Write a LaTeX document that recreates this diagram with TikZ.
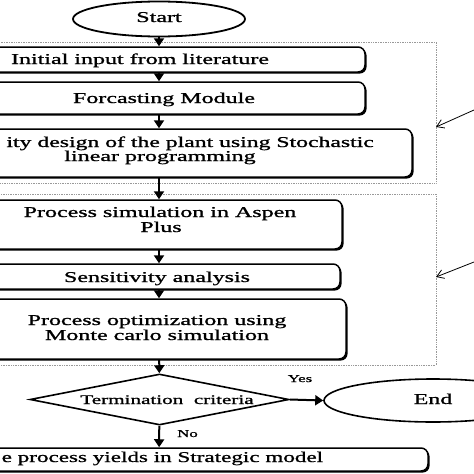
\documentclass[tikz,border=0pt]{standalone}
\usepackage{fontspec}
\setmainfont{Liberation Serif}
\newfontfamily\medfont{Liberation Serif}[FakeBold=0.9]
\usetikzlibrary{shapes.geometric,shadows,arrows.meta}
\newcommand\wx[1]{\scalebox{1.6}[1]{#1}}
\begin{document}
\begin{tikzpicture}[x=1pt,y=-1pt,
  box/.style={draw=black,line width=1.5pt,rounded corners=7pt,fill=white,inner sep=0pt,
     drop shadow={shadow xshift=1.6pt,shadow yshift=-1.6pt,opacity=1,fill=black}},
  txt/.style={inner sep=0pt,anchor=base,font=\fontsize{15}{16}\medfont},
  small/.style={inner sep=0pt,anchor=base,font=\fontsize{10.5}{12}\medfont},
  grp/.style={draw=gray!80,densely dotted,line width=0.7pt},
  arr/.style={line width=2pt,-{Triangle[length=8pt,width=10pt]}},
  pointer/.style={line width=0.8pt,-{Straight Barb[length=7pt,width=9pt]}}]
\useasboundingbox (0,0) rectangle (474,474);
\clip (0,0) rectangle (474,474);
\fill[white] (0,0) rectangle (474,474);
% groups
\draw[grp] (-10,42) rectangle (436,183);
\draw[grp] (-10,194) rectangle (436,365);
% terminals
\node[draw,ellipse,line width=1.8pt,minimum width=172pt,minimum height=35pt,inner sep=0pt] (start) at (159,19) {};
\node[draw,ellipse,line width=1.6pt,minimum width=218pt,minimum height=43pt,inner sep=0pt] (end) at (433,400.5) {};
% boxes
\node[box,minimum width=412pt,minimum height=25pt] (b1) at (159,59.5) {};
\node[box,minimum width=412pt,minimum height=32pt] (b2) at (159,98) {};
\node[box,minimum width=506pt,minimum height=48pt] (b3) at (159,153) {};
\node[box,minimum width=366pt,minimum height=49pt] (b4) at (159,224.5) {};
\node[box,minimum width=362pt,minimum height=25pt] (b5) at (159,276.5) {};
\node[box,minimum width=374pt,minimum height=60pt] (b6) at (159,329) {};
\node[box,minimum width=538pt,minimum height=23pt] (b7) at (159,459.5) {};
% decision
\node[draw,diamond,line width=1.6pt,minimum width=259pt,minimum height=51pt,inner sep=0pt,aspect=5] (dec) at (159.5,399.5) {};
% texts
\node[txt] (t0) at (159,22) {\wx{Start}};
\node[txt] (t1) at (140,64) {\wx{Initial input from literature}};
\node[txt] (t2) at (164,103) {\wx{Forcasting Module}};
\node[txt,anchor=base east] (t3a) at (374,147) {\scalebox{1.58}[1]{ity design of the plant using Stochastic}};
\node[txt] (t3b) at (160,161) {\wx{linear programming}};
\node[txt] (t4a) at (160,217) {\wx{Process simulation in Aspen}};
\node[txt] (t4b) at (161,232) {\wx{Plus}};
\node[txt] (t5) at (157,282) {\wx{Sensitivity analysis}};
\node[txt] (t6a) at (157,325) {\wx{Process optimization using}};
\node[txt] (t6b) at (157,340) {\wx{Monte carlo simulation}};
\node[txt,font=\fontsize{13.2}{14}\medfont] (t8) at (167,404) {\wx{Termination\ \ criteria}};
\node[txt] (t9) at (433,404) {\wx{End}};
\node[txt,anchor=base west] (t7) at (1.5,462) {\scalebox{1.54}[1]{e process yields in Strategic model}};
\node[small] (yes) at (300,382) {\wx{Yes}};
\node[small] (no) at (187.5,437) {\wx{No}};
% connectors
\draw[arr] (start) -- (b1);
\draw[arr] (b1) -- (b2);
\draw[arr] (b2) -- (b3);
\draw[arr] (b3) -- (b4);
\draw[arr] (b4) -- (b5);
\draw[arr] (b5) -- (b6);
\draw[arr] (b6) -- (dec);
\draw[arr] (dec) -- (b7);
\draw[arr] (dec.east) -- (end.west);
% pointers
\coordinate (p1) at (474,110);
\coordinate (p2) at (474,262);
\coordinate (g1) at (436,127);
\coordinate (g2) at (436,277);
\draw[pointer] (p1) -- (g1);
\draw[pointer] (p2) -- (g2);
\end{tikzpicture}
\end{document}
